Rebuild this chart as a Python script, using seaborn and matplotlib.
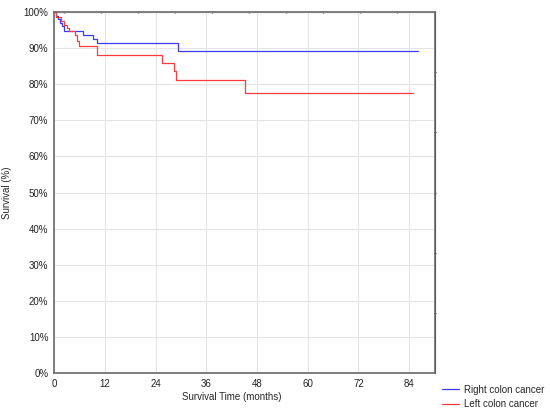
import seaborn as sns
import matplotlib.pyplot as plt
import pandas as pd

# Kaplan-Meier step data (months, % surviving)
right_time = [0, 0.3, 0.8, 1.3, 1.8, 2.4, 6.9, 9.1, 10.1, 29.3, 86]
right_surv = [100, 99.0, 98.0, 97.0, 96.0, 94.8, 93.7, 92.5, 91.4, 89.3, 89.3]

left_time = [0, 0.4, 1.6, 2.3, 2.9, 3.5, 5.0, 5.4, 5.8, 10.0, 25.4, 28.3, 28.8, 45.1, 85]
left_surv = [100, 98.5, 97.5, 96.5, 95.6, 94.8, 93.5, 92.0, 90.5, 88.2, 86.0, 83.7, 81.3, 77.6, 77.6]

groups = ['Right colon cancer', 'Left colon cancer']
x_ticks = [0, 12, 24, 36, 48, 60, 72, 84]
y_ticks = [0, 10, 20, 30, 40, 50, 60, 70, 80, 90, 100]
top_ticks = [2.3, 11.0, 19.7, 28.5, 37.4, 46.1, 54.9, 63.6, 72.3, 81.2]
right_ticks = [16.67, 33.33, 50, 66.67, 83.33]

df = pd.concat([
    pd.DataFrame({'time': right_time, 'surv': right_surv, 'group': groups[0]}),
    pd.DataFrame({'time': left_time, 'surv': left_surv, 'group': groups[1]}),
])

sns.set_style('white')
plt.rcParams['font.family'] = ['Liberation Sans', 'DejaVu Sans']

fig = plt.figure(figsize=(5.5, 4.12), dpi=100)
ax = fig.add_axes([0.0987, 0.0939, 0.6913, 0.8771])

sns.lineplot(data=df, x='time', y='surv', hue='group', hue_order=groups,
             palette=['#3a3aff', '#ff3a3a'], estimator=None, sort=False,
             drawstyle='steps-post', linewidth=0.9, legend=False, ax=ax)

ax.set_xlim(0, 90)
ax.set_ylim(0, 100)
ax.set_xticks(x_ticks)
ax.set_yticks(y_ticks)
ax.set_yticklabels(['{}%'.format(v) for v in y_ticks])
ax.grid(True, color='#e4e4e4', linewidth=0.8)
ax.set_axisbelow(True)
ax.tick_params(axis='both', labelsize=7, colors='#222222', length=2.5,
               width=0.8, direction='inout', pad=3)
for s in ax.spines.values():
    s.set_color('#6a6a6a')
    s.set_linewidth(1.2)

top = ax.secondary_xaxis('top')
top.set_xticks(top_ticks)
top.set_xticklabels([])
top.tick_params(length=2, width=0.8, direction='inout', colors='#444444')
right = ax.secondary_yaxis('right')
right.set_yticks(right_ticks)
right.set_yticklabels([])
right.tick_params(length=2, width=0.8, direction='inout', colors='#444444')

ax.set_xlabel('Survival Time (months)', fontsize=7, labelpad=2, x=0.468)
ax.set_ylabel('Survival (%)', fontsize=7, labelpad=8)

handles = ax.get_lines()[:2]
fig.legend(handles, groups, loc='lower left', bbox_to_anchor=(0.803, 0.007),
           frameon=False, fontsize=7, handlelength=1.8, handletextpad=0.5,
           labelspacing=0.45, borderaxespad=0, borderpad=0)

plt.savefig('out.png', dpi=100)
plt.close()
